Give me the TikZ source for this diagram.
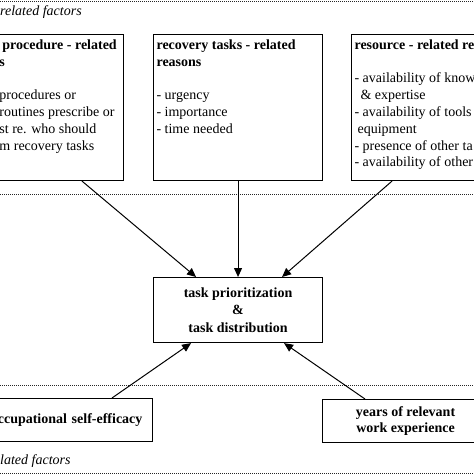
\documentclass[tikz,border=0pt]{standalone}
\usepackage{fontspec}
\setmainfont{Liberation Serif}
\usetikzlibrary{arrows.meta,positioning}

\begin{document}
\begin{tikzpicture}[
        x=1pt, y=-1pt,
        every node/.style={
                font=\fontsize{14}{16.8}\selectfont
            },
        reason/.style={
                draw=black,
                line width=1.1pt,
                inner xsep=3pt,
                inner ysep=5pt
            },
        decision/.style={
                draw=black,
                line width=1.1pt,
                anchor=north west,
                align=center,
                minimum width=169pt,
                minimum height=65pt,
                font=\fontsize{14}{17.5}\selectfont\bfseries
            },
        person/.style={
                draw=black,
                line width=1.1pt,
                minimum height=43pt,
                font=\fontsize{14}{16.8}\selectfont\bfseries
            },
        level/.style={
                anchor=west,
                inner sep=0pt,
                font=\fontsize{14}{16.8}\selectfont\itshape
            },
        divider/.style={
                line width=0.9pt,
                dash pattern=on 1pt off 1pt,
                black!85
            },
        influence/.style={
                line width=1pt,
                -{Triangle[length=9pt,width=8pt]}
            }
    ]
    \useasboundingbox (0,0) rectangle (474,474);
    \clip (0,0) rectangle (474,474);

    %levels
    \draw[divider] (0,1) -- (474,1);
    \draw[divider] (0,194) -- (474,194);
    \draw[divider] (0,385) -- (474,385);
    \draw[divider] (0,473) -- (474,473);
    \node[level] (toplevel) at (0,12) {related factors};
    \node[level] (bottomlevel) at (0,461) {lated factors};

    %reasons
    \node[reason, anchor=north east] (rule) at (124,34) {\parbox[c][136pt][t]{121pt}{%
            \textbf{\hspace*{3pt}procedure - related}\\
            \textbf{s}\\
            ~\\
            procedures or\\
            routines prescribe or\\
            st re. who should\\
            m recovery tasks}};
    \node[reason, anchor=north west] (recovery) at (153,34) {\parbox[c][136pt][t]{163pt}{%
            \textbf{recovery tasks - related}\\
            \textbf{reasons}\\
            ~\\
            - urgency\\
            - importance\\
            - time needed}};
    \node[reason, anchor=north west] (resource) at (351,34) {\parbox[c][136pt][t]{163pt}{%
            \textbf{resource - related re}\\
            ~\\
            - availability of know\\
            \hspace*{6pt}\& expertise\\
            - availability of tools\\
            \hspace*{3pt}equipment\\
            - presence of other ta\\
            - availability of other}};

    %decision
    \node[decision] (task) at (153,277) {task prioritization\\ \&\\ task distribution};

    %persons
    \node[person, anchor=north east, text width=150pt, align=right, inner xsep=10pt] (efficacy) at (153,398) {ccupational self-efficacy};
    \node[person, anchor=north west, minimum width=166pt, align=center] (years) at (322,399) {years of relevant\\ work experience};

    %influences
    \draw[influence] ([xshift=-42pt]rule.south east) -- ([xshift=-42pt]task.north);
    \draw[influence] (recovery.south) -- (task.north);
    \draw[influence] ([xshift=41pt]resource.south west) -- ([xshift=44pt]task.north);
    \draw[influence] ([xshift=-41pt]efficacy.north east) -- ([xshift=-47pt]task.south);
    \draw[influence] ([xshift=43pt]years.north west) -- ([xshift=46pt]task.south);
\end{tikzpicture}
\end{document}
